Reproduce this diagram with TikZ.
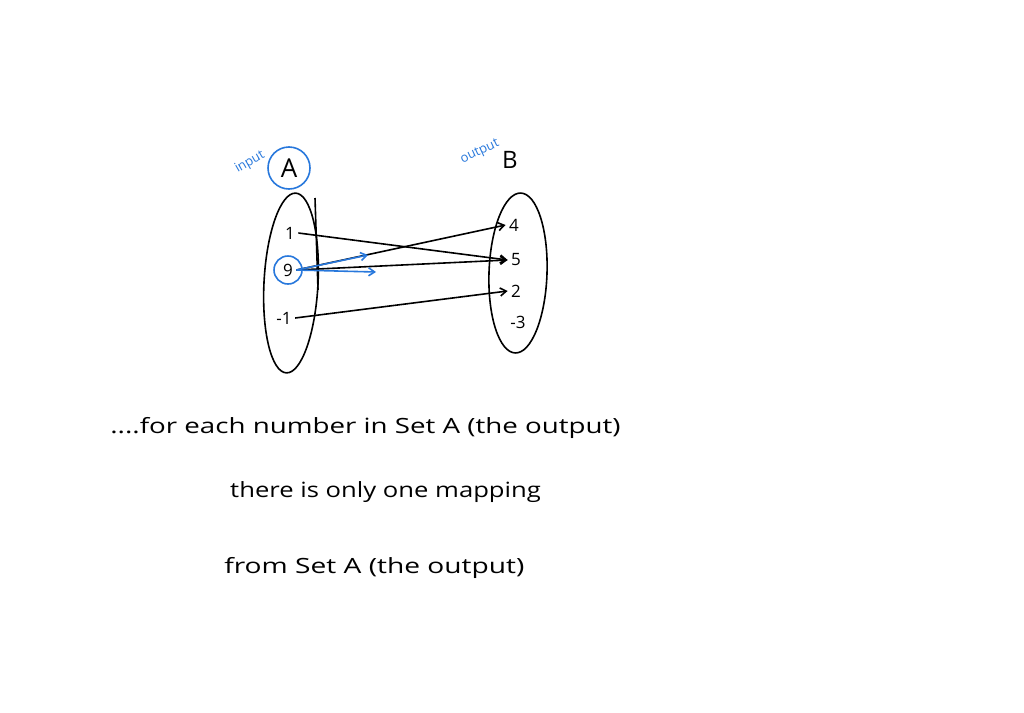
\documentclass[tikz,border=0pt]{standalone}
\usepackage{fontspec}
\setmainfont{Open Sans}
\usetikzlibrary{arrows.meta}
\begin{document}
\begin{tikzpicture}[x=1pt,y=-1pt,
  ink/.style={line width=1.6pt,black},
  blueink/.style={line width=1.6pt,color=blu},
  arr/.style={ink,-{Straight Barb[length=6pt,width=8pt]}},
  barr/.style={blueink,-{Straight Barb[length=6pt,width=8pt]}},
  lbl/.style={font=\fontsize{17}{17}\selectfont},
  txt/.style={font=\fontsize{21}{21}\selectfont,anchor=west,inner sep=0pt}]
\definecolor{blu}{RGB}{40,120,220}
\useasboundingbox (0,0) rectangle (1024,712);
\fill[white] (0,0) rectangle (1024,712);
% ellipses
\draw[ink,rotate around={-3:(291,283)}] (291,283) ellipse[x radius=27,y radius=90];
\draw[ink] (315,198) -- (318,290);
\draw[ink,rotate around={-2:(518,273)}] (518,273) ellipse[x radius=29,y radius=80];
% headings
\node[lbl,font=\fontsize{26}{26}\selectfont] (A) at (289,168) {A};
\draw[blueink] (A) circle[radius=21];
\node[lbl,color=blu,rotate=30,font=\fontsize{13}{13}\selectfont,inner sep=0pt] (inp) at (250,162) {input};
\node[lbl,color=blu,rotate=25,font=\fontsize{13}{13}\selectfont,inner sep=0pt] (outp) at (480,152) {output};
\node[lbl,font=\fontsize{24}{24}\selectfont] (B) at (510,160) {B};
% left elements
\node[lbl] (l1) at (290,233) {1};
\node[lbl] (l9) at (288,270) {9};
\draw[blueink] (l9) circle[radius=14];
\node[lbl] (lm1) at (284,318) {-1};
% right elements
\node[lbl] (r4) at (514,225) {4};
\node[lbl] (r5) at (516,260) {5};
\node[lbl] (r2) at (516,291) {2};
\node[lbl] (rm3) at (518,322) {-3};
% arrows
\draw[arr] (l1.east) -- (r5.west);
\draw[arr] (l9.east) -- (r4.west);
\draw[arr] (l9.east) -- (r5.west);
\draw[arr] (lm1.east) -- (r2.west);
\coordinate (b1) at (368,255);
\coordinate (b2) at (376,272);
\draw[barr] (l9.east) -- (b1);
\draw[barr] (l9.east) -- (b2);
% text
\node[txt,xscale=1.32] (t1) at (110,428) {....for each number in Set A (the output)};
\node[txt,xscale=1.22] (t2) at (230,492) {there is only one mapping};
\node[txt,xscale=1.34] (t3) at (224,568) {from Set A (the output)};
\end{tikzpicture}
\end{document}
